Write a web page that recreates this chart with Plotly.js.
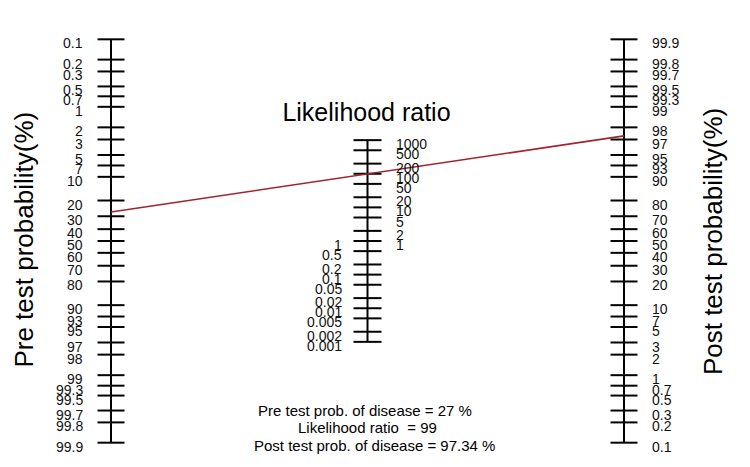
<!DOCTYPE html>
<html><head><meta charset="utf-8">
<script src="https://cdn.plot.ly/plotly-3.0.1.min.js"></script>
<style>html,body{margin:0;padding:0;background:#fff}#chart{width:750px;height:467px}</style>
</head><body><div id="chart"></div>
<script>
// ---- data ----
const probTicks = [0.1,0.2,0.3,0.5,0.7,1,2,3,5,7,10,20,30,40,50,60,70,80,90,93,95,97,98,99,99.3,99.5,99.7,99.8,99.9];
const probLabels = ['0.1','0.2','0.3','0.5','0.7','1','2','3','5','7','10','20','30','40','50','60','70','80','90','93','95','97','98','99','99.3','99.5','99.7','99.8','99.9'];
const lrTicks = [0.001,0.002,0.005,0.01,0.02,0.05,0.1,0.2,0.5,1,2,5,10,20,50,100,200,500,1000];
const lrLeftValues = [0.001,0.002,0.005,0.01,0.02,0.05,0.1,0.2,0.5,1];
const lrLeftLabels = ['0.001','0.002','0.005','0.01','0.02','0.05','0.1','0.2','0.5','1'];
const lrRightValues = [1,2,5,10,20,50,100,200,500,1000];
const lrRightLabels = ['1','2','5','10','20','50','100','200','500','1000'];
const preTest = 27;        // %
const likelihoodRatio = 99;
const postTest = 97.34;    // %
const summaryLines = ['Pre test prob. of disease = 27 %', 'Likelihood ratio \u00a0= 99', 'Post test prob. of disease = 97.34 %'];

// ---- scales ----
const logit = p => Math.log(p / (1 - p));
const preY = p => -logit(p / 100);      // pre-test scale (0.1 at top)
const postY = p => logit(p / 100);      // post-test scale (99.9 at top)
const lrY = v => Math.log(v) / 2;       // LR scale at the midpoint

const X_PRE = 0, X_LR = 0.5, X_POST = 1;
const H_SIDE = 0.0263, H_MID = 0.0273;

function ticksTrace(xc, h, ys) {
  const x = [], y = [];
  ys.forEach(v => { x.push(xc - h, xc + h, null); y.push(v, v, null); });
  x.push(xc, xc, null); y.push(Math.min(...ys), Math.max(...ys), null);
  return {type:'scatter', mode:'lines', x, y, line:{color:'#000', width:2}, hoverinfo:'skip'};
}

const traces = [
  ticksTrace(X_PRE, H_SIDE, probTicks.map(preY)),
  ticksTrace(X_POST, H_SIDE, probTicks.map(postY)),
  ticksTrace(X_LR, H_MID, lrTicks.map(lrY)),
  {type:'scatter', mode:'lines', x:[X_PRE, X_POST], y:[preY(preTest), postY(postTest)],
   line:{color:'#a3232e', width:1.6}, hoverinfo:'skip'}
];

const FONT = 'Liberation Sans, Arial, sans-serif';
const tickFont = {family: FONT, size: 14, color: '#111'};
const annotations = [];
function addLabels(xc, ys, labels, anchor, shift) {
  ys.forEach((y, i) => annotations.push({
    x: xc, y, xref:'x', yref:'y', text: labels[i], showarrow:false,
    xanchor: anchor, yanchor:'middle', xshift: shift, yshift: -4,
    borderpad:0, borderwidth:0, font: tickFont
  }));
}
addLabels(X_PRE, probTicks.map(preY), probLabels, 'right', -28);
addLabels(X_POST, probTicks.map(postY), probLabels, 'left', 28);
addLabels(X_LR, lrLeftValues.map(lrY), lrLeftLabels, 'right', -26);
addLabels(X_LR, lrRightValues.map(lrY), lrRightLabels, 'left', 28);

annotations.push({xref:'paper', yref:'paper', x:23.6/750, y:1-240/467, text:'Pre test probability(%)',
  textangle:-90, showarrow:false, xanchor:'center', yanchor:'middle', borderpad:0,
  font:{family:FONT, size:26, color:'#000'}});
annotations.push({xref:'paper', yref:'paper', x:712.6/750, y:1-241.5/467, text:'Post test probability(%)',
  textangle:-90, showarrow:false, xanchor:'center', yanchor:'middle', borderpad:0,
  font:{family:FONT, size:26, color:'#000'}});

const sumX = [365, 367, 374], sumY = [410, 427.5, 445];
summaryLines.forEach((t, i) => annotations.push({xref:'paper', yref:'paper', x:sumX[i]/750, y:1-sumY[i]/467,
  text:t, showarrow:false, xanchor:'center', yanchor:'middle', borderpad:0,
  font:{family:FONT, size:15, color:'#000'}}));

const layout = {
  width:750, height:467, margin:{l:0, r:0, t:0, b:0},
  paper_bgcolor:'#fff', plot_bgcolor:'#fff', showlegend:false,
  title:{text:'Likelihood ratio', x:366.5/750, y:1-112/467, xanchor:'center', yanchor:'middle',
         font:{family:FONT, size:25, color:'#000'}},
  xaxis:{range:[-111/513, -111/513 + 750/513], visible:false, fixedrange:true},
  yaxis:{range:[-(467-241)/29.2, 241/29.2], visible:false, fixedrange:true},
  annotations
};
Plotly.newPlot('chart', traces, layout, {staticPlot:true, displayModeBar:false});
</script>
</body></html>
